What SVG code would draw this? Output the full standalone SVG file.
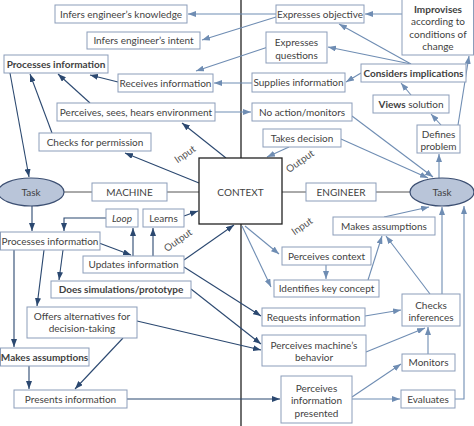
<svg xmlns="http://www.w3.org/2000/svg" width="474" height="426" viewBox="0 0 474 426">
<defs>
<marker id="ad" markerWidth="8" markerHeight="6" refX="8" refY="3" orient="auto" markerUnits="userSpaceOnUse"><path d="M0,0 L8,3 L0,6 z" fill="#2b4870"/></marker>
<marker id="al" markerWidth="8" markerHeight="6" refX="8" refY="3" orient="auto" markerUnits="userSpaceOnUse"><path d="M0,0 L8,3 L0,6 z" fill="#6f8db3"/></marker>
</defs>
<style>
.b{fill:#fff;stroke:#8b9dba;stroke-width:1}
.t{font-family:Lato,"Liberation Sans",sans-serif;font-size:10px;fill:#3f3f3f;text-anchor:middle}
.bd{font-weight:bold}
.it{font-style:italic}
.d{stroke:#2b4870;stroke-width:1.1;fill:none;marker-end:url(#ad)}
.l{stroke:#6f8db3;stroke-width:1.1;fill:none;marker-end:url(#al)}
.g{stroke:#555;stroke-width:1;fill:none}
.task{fill:#b9c5d9;stroke:#3c4f72;stroke-width:1.2}
.lab{font-family:Lato,"Liberation Sans",sans-serif;font-size:10px;fill:#555;text-anchor:middle}
</style>
<rect width="474" height="426" fill="#fff"/>
<line x1="241" y1="0" x2="241" y2="426" stroke="#222" stroke-width="1.3"/>
<g id="connectors">
<path class="g" d="M64,192 H92 M167,192 H199 M282,192 H306 M376,192 H410"/>
<path class="l" d="M276,14 H188"/>
<path class="l" d="M276,17 L202,40"/>
<path class="l" d="M268,47 L196,71"/>
<path class="l" d="M252,83 H214"/>
<path class="l" d="M215,112 H251"/>
<path class="l" d="M289,147 L267,157"/>
<path class="l" d="M245,226 L279,254"/>
<path class="l" d="M242,226 L271,287"/>
<path class="l" d="M326,265 V279"/>
<path class="l" d="M368,280 L382,236"/>
<path class="l" d="M430,294 L386,236"/>
<path class="l" d="M384,217 L429,207"/>
<path class="l" d="M442,294 V207"/>
<path class="l" d="M455,399 H464 V206"/>
<path class="l" d="M365,316 L401,310"/>
<path class="l" d="M366,352 L425,328"/>
<path class="l" d="M428,354 V327"/>
<path class="l" d="M352,397 L401,364"/>
<path class="l" d="M352,399 H400"/>
<path class="l" d="M439,178 V154"/>
<path class="l" d="M458,125 L469,56"/>
<path class="l" d="M441,125 L431,114"/>
<path class="l" d="M411,95 L401,83"/>
<path class="l" d="M361,73 L346,82"/>
<path class="l" d="M411,64 L328,47"/>
<path class="l" d="M411,64 L339,24"/>
<path class="l" d="M402,14 H365"/>
<path class="l" d="M352,116 L433,177"/>
<path class="l" d="M341,139 L428,178"/>
<path class="d" d="M118,82 L90,75"/>
<path class="d" d="M90,103 L58,74"/>
<path class="d" d="M52,133 L30,74"/>
<path class="d" d="M10,73 L29,177"/>
<path class="d" d="M199,183 L125,153"/>
<path class="d" d="M226,158 L182,123"/>
<path class="d" d="M32,206 V231"/>
<path class="d" d="M106,218 H64 V231"/>
<path class="d" d="M133,256 V228"/>
<path class="d" d="M153,256 V228"/>
<path class="d" d="M184,216 L198,211"/>
<path class="d" d="M184,260 L234,225"/>
<path class="d" d="M99,243 L131,255"/>
<path class="d" d="M63,250 L59,280"/>
<path class="d" d="M44,250 L37,306"/>
<path class="d" d="M14,250 V347"/>
<path class="d" d="M29,366 V389"/>
<path class="d" d="M123,338 L75,389"/>
<path class="d" d="M127,399 H280"/>
<path class="d" d="M184,267 L261,316"/>
<path class="d" d="M191,289 L261,344"/>
<path class="d" d="M137,321 L261,350"/>
<text class="lab" transform="translate(187,157) rotate(-35)">Input</text>
<text class="lab" transform="translate(302,164) rotate(-35)">Output</text>
<text class="lab" transform="translate(304,229) rotate(-35)">Input</text>
<text class="lab" transform="translate(180,243) rotate(-35)">Output</text>
</g>
<g id="n1"><rect class="b" x="55" y="5" width="132" height="18"/><text class="t" x="121" y="17.5">Infers engineer’s knowledge</text></g>
<g id="n2"><rect class="b" x="87" y="32" width="113" height="17"/><text class="t" x="143.5" y="44">Infers engineer’s intent</text></g>
<g id="n3"><rect class="b" x="4" y="55" width="104" height="18"/><text class="t bd" x="56" y="67.5">Processes information</text></g>
<g id="n4"><rect class="b" x="118" y="74" width="95" height="18"/><text class="t" x="165.5" y="86.5">Receives information</text></g>
<g id="n5"><rect class="b" x="57" y="103" width="158" height="18"/><text class="t" x="136" y="115.5">Perceives, sees, hears environment</text></g>
<g id="n6"><rect class="b" x="39" y="133" width="112" height="18"/><text class="t" x="95" y="145.5">Checks for permission</text></g>
<g id="n7"><ellipse class="task" cx="31" cy="192" rx="33" ry="14"/><text class="t" x="31" y="195.5">Task</text></g>
<g id="n8"><rect class="b" x="92" y="183" width="75" height="18"/><text class="t" x="129.5" y="195.5">MACHINE</text></g>
<g id="n9"><rect x="199" y="158" width="83" height="66" fill="#fff" stroke="#222" stroke-width="1.3"/><text class="t" x="240.5" y="195.5">CONTEXT</text></g>
<g id="n10"><rect class="b" x="106" y="209" width="32" height="18"/><text class="t it" x="122" y="221.5">Loop</text></g>
<g id="n11"><rect class="b" x="143" y="209" width="41" height="18"/><text class="t" x="163.5" y="221.5">Learns</text></g>
<g id="n12"><rect class="b" x="0.5" y="232" width="99.5" height="18"/><text class="t" x="50" y="244.5">Processes information</text></g>
<g id="n13"><rect class="b" x="83" y="256" width="101" height="17"/><text class="t" x="133.5" y="268">Updates information</text></g>
<g id="n14"><rect class="b" x="51" y="281" width="140" height="17"/><text class="t bd" x="121" y="293">Does simulations/prototype</text></g>
<g id="n15"><rect class="b" x="27" y="307" width="110" height="31"/><text class="t" x="82" y="319.5">Offers alternatives for</text><text class="t" x="82" y="332">decision-taking</text></g>
<g id="n16"><rect class="b" x="0.5" y="348" width="88.5" height="18"/><text class="t bd" x="44.5" y="360.5">Makes assumptions</text></g>
<g id="n17"><rect class="b" x="14" y="390" width="113" height="18"/><text class="t" x="70.5" y="402.5">Presents information</text></g>
<g id="n18"><rect class="b" x="276" y="5" width="88" height="18"/><text class="t" x="320" y="17.5">Expresses objective</text></g>
<g id="n19"><rect class="b" x="402" y="-1" width="71.5" height="56"/><text class="t bd" x="438" y="12.5">Improvises</text><text class="t" x="438" y="25">according to</text><text class="t" x="438" y="37.5">conditions of</text><text class="t" x="438" y="50">change</text></g>
<g id="n20"><rect class="b" x="266" y="32" width="61" height="31"/><text class="t" x="296.5" y="46">Expresses</text><text class="t" x="296.5" y="58.5">questions</text></g>
<g id="n21"><rect class="b" x="252" y="73" width="93" height="19"/><text class="t" x="298.5" y="86">Supplies information</text></g>
<g id="n22"><rect class="b" x="361" y="64" width="105" height="18"/><text class="t bd" x="413.5" y="76.5">Considers implications</text></g>
<g id="n23"><rect class="b" x="373" y="95" width="76" height="18"/><text class="t" x="411" y="107.5"><tspan class="bd">Views</tspan> solution</text></g>
<g id="n24"><rect class="b" x="252" y="103" width="100" height="18"/><text class="t" x="302" y="115.5">No action/monitors</text></g>
<g id="n25"><rect class="b" x="417" y="125" width="43" height="28"/><text class="t" x="438.5" y="137.5">Defines</text><text class="t" x="438.5" y="150">problem</text></g>
<g id="n26"><rect class="b" x="263" y="129" width="78" height="18"/><text class="t" x="302" y="141.5">Takes decision</text></g>
<g id="n27"><rect class="b" x="306" y="183" width="70" height="18"/><text class="t" x="341" y="195.5">ENGINEER</text></g>
<g id="n28"><ellipse class="task" cx="442" cy="192" rx="32" ry="14"/><text class="t" x="442" y="195.5">Task</text></g>
<g id="n29"><rect class="b" x="333" y="217" width="102" height="18"/><text class="t" x="384" y="229.5">Makes assumptions</text></g>
<g id="n30"><rect class="b" x="282" y="247" width="89" height="18"/><text class="t" x="326.5" y="259.5">Perceives context</text></g>
<g id="n31"><rect class="b" x="274" y="280" width="105" height="17"/><text class="t" x="326.5" y="292">Identifies key concept</text></g>
<g id="n32"><rect class="b" x="262" y="308" width="103" height="18"/><text class="t" x="313.5" y="320.5">Requests information</text></g>
<g id="n33"><rect class="b" x="402" y="294" width="58" height="32"/><text class="t" x="431" y="308.5">Checks</text><text class="t" x="431" y="321">inferences</text></g>
<g id="n34"><rect class="b" x="262" y="335" width="104" height="31"/><text class="t" x="314" y="348.5">Perceives machine’s</text><text class="t" x="314" y="361">behavior</text></g>
<g id="n35"><rect class="b" x="402" y="354" width="53" height="17"/><text class="t" x="428.5" y="366">Monitors</text></g>
<g id="n36"><rect class="b" x="281" y="376" width="71" height="47"/><text class="t" x="316.5" y="391.5">Perceives</text><text class="t" x="316.5" y="404">information</text><text class="t" x="316.5" y="416.5">presented</text></g>
<g id="n37"><rect class="b" x="401" y="390" width="54" height="18"/><text class="t" x="428" y="402.5">Evaluates</text></g>
</svg>
